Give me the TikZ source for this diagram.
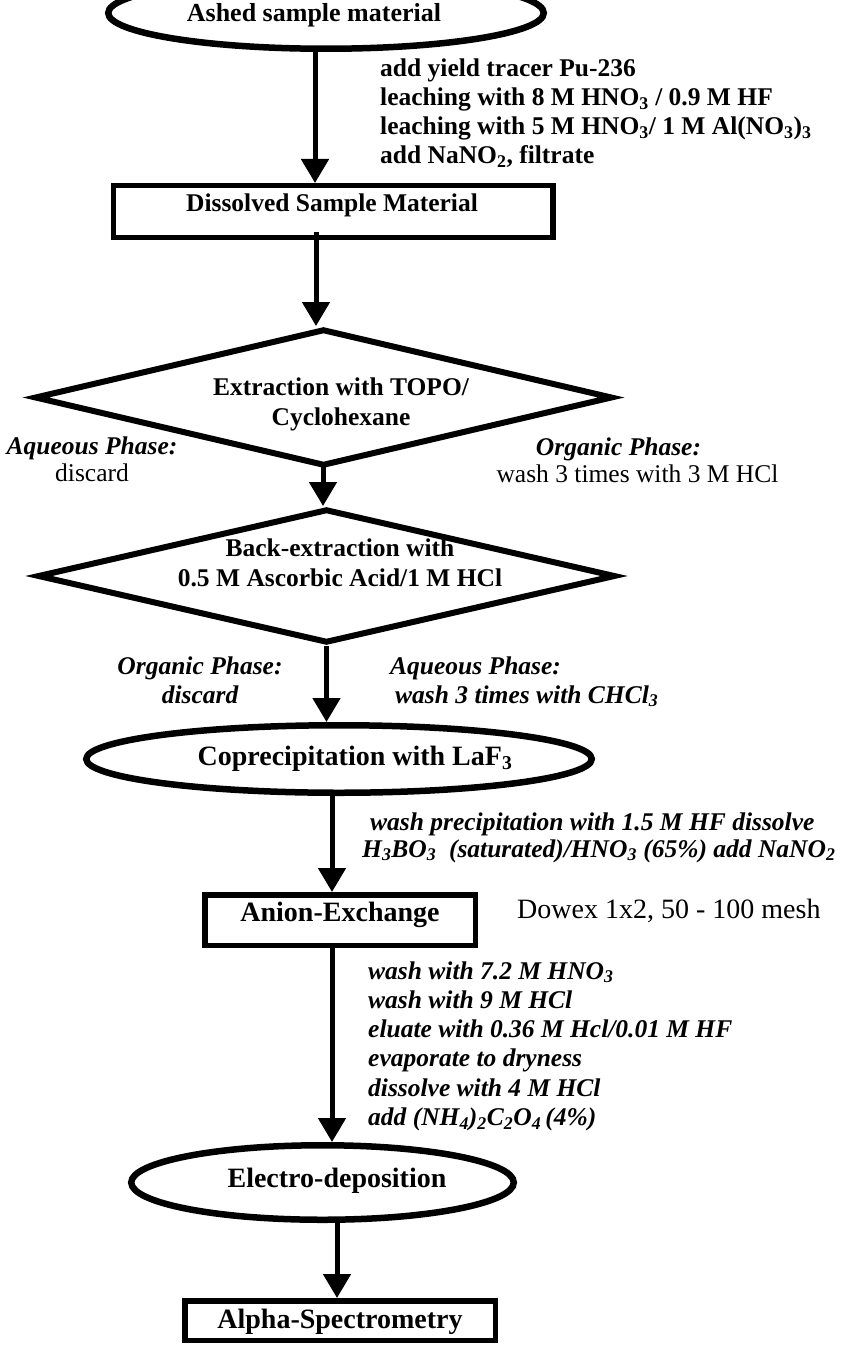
\documentclass[tikz,border=0pt]{standalone}
\usepackage{fontspec}
\setmainfont{Liberation Serif}
\usetikzlibrary{shapes.geometric,arrows.meta}
\tikzset{
  ell/.style={ellipse, draw, line width=6.5pt, inner sep=0pt},
  boxr/.style={rectangle, draw, line width=5.5pt, inner sep=0pt},
  dia/.style={diamond, draw, line width=6pt, inner sep=0pt},
  arr/.style={line width=5pt, -{Triangle[width=27pt,length=24pt]}},
  btxt/.style={font=\fontsize{25.5pt}{29.3pt}\selectfont\bfseries, inner sep=0pt},
  bitxt/.style={font=\fontsize{25.5pt}{29.3pt}\selectfont\bfseries\itshape, inner sep=0pt},
  rtxt/.style={font=\fontsize{25.5pt}{29.3pt}\selectfont, inner sep=0pt},
  bigtxt/.style={font=\fontsize{28pt}{32pt}\selectfont\bfseries, inner sep=0pt},
}
\begin{document}
\begin{tikzpicture}[x=1pt,y=-1pt]
\useasboundingbox (0,0) rectangle (857,1351);
\fill[white] (0,0) rectangle (857,1351);

% shapes
\node[ell, minimum width=435.5pt, minimum height=71.5pt] (e1) at (326,13) {};
\node[boxr, minimum width=439.5pt, minimum height=51.5pt] (r1) at (333,211.5) {};
\node[dia, minimum width=578pt, minimum height=137pt] (d1) at (323.5,397.5) {};
\node[dia, minimum width=578pt, minimum height=134pt] (d2) at (326.5,576) {};
\node[ell, minimum width=505.5pt, minimum height=67.5pt] (e2) at (339,759) {};
\node[boxr, minimum width=270.5pt, minimum height=50.5pt] (r2) at (340,920) {};
\node[ell, minimum width=382.5pt, minimum height=74.5pt] (e3) at (322.5,1182.5) {};
\node[boxr, minimum width=310.5pt, minimum height=39.5pt] (r3) at (340,1320.5) {};

% shape texts (for multi-line texts the base anchor is the last line)
\node[btxt, font=\fontsize{26pt}{29pt}\selectfont\bfseries, anchor=base] (t1) at (314,22) {Ashed sample material};
\node[btxt, anchor=base] (t2) at (332,211.5) {Dissolved Sample Material};
\node[btxt, align=center, anchor=base] (t3) at (341,425) {Extraction with TOPO/\\Cyclohexane};
\node[btxt, align=center, anchor=base] (t6) at (340,586) {Back-extraction with\\0.5 M Ascorbic Acid/1 M HCl};
\node[bigtxt, anchor=base] (t9) at (355,765) {Coprecipitation with LaF\textsubscript{3}};
\node[bigtxt, anchor=base] (t10) at (340,921.7) {Anion-Exchange};
\node[bigtxt, anchor=base] (t12) at (337,1187) {Electro-deposition};
\node[bigtxt, anchor=base] (t13) at (340,1328) {Alpha-Spectrometry};

% side texts
\node[btxt, align=left, anchor=base west] (ta) at (380,164)
  {add yield tracer Pu-236\\
   leaching with 8 M HNO\textsubscript{3} / 0.9 M HF\\
   leaching with 5 M HNO\textsubscript{3}/ 1 M Al(NO\textsubscript{3})\textsubscript{3}\\
   add NaNO\textsubscript{2}, filtrate};
\node[bitxt, font=\fontsize{25.5pt}{26.5pt}\selectfont\bfseries\itshape, align=center, anchor=base] (t4) at (92,481)
  {Aqueous Phase:\\{\mdseries\upshape discard}};
\node[bitxt, font=\fontsize{25.5pt}{26.5pt}\selectfont\bfseries\itshape, align=center, anchor=base] (t5) at (637.5,482)
  {Organic Phase:\hspace*{38pt}\\{\mdseries\upshape wash 3 times with 3 M HCl}};
\node[bitxt, font=\fontsize{25.5pt}{28.5pt}\selectfont\bfseries\itshape, align=center, anchor=base] (t7) at (200,703)
  {Organic Phase:\\discard};
\node[bitxt, font=\fontsize{25.5pt}{28.5pt}\selectfont\bfseries\itshape, align=left, anchor=base west] (t8) at (390,703)
  {Aqueous Phase:\\\hspace*{5pt}wash 3 times with CHCl\textsubscript{3}};
\node[bitxt, font=\fontsize{25.5pt}{26.5pt}\selectfont\bfseries\itshape, align=left, anchor=base west] (tb) at (362,857)
  {\hspace*{8pt}wash precipitation with 1.5 M HF dissolve\\
   H\textsubscript{3}BO\textsubscript{3}\ \ (saturated)/HNO\textsubscript{3} (65\%) add NaNO\textsubscript{2}};
\node[rtxt, font=\fontsize{28pt}{32pt}\selectfont, anchor=base west] (t11) at (517,918)
  {Dowex 1x2, 50 - 100 mesh};
\node[bitxt, align=left, anchor=base west] (tc) at (368,1125.5)
  {wash with 7.2 M HNO\textsubscript{3}\\
   wash with 9 M HCl\\
   eluate with 0.36 M Hcl/0.01 M HF\\
   evaporate to dryness\\
   dissolve with 4 M HCl\\
   add (NH\textsubscript{4})\textsubscript{2}C\textsubscript{2}O\textsubscript{4}\,(4\%)};

% connectors
\draw[arr] ([xshift=-11pt]e1.south) -- ([xshift=-18pt]r1.north);
\draw[arr] ([xshift=-17pt,yshift=8pt]r1.south) -- ([xshift=-7.5pt]d1.north);
\draw[arr] ([xshift=-0.5pt,yshift=4pt]d1.south) -- ([xshift=-3.5pt]d2.north);
\draw[arr] (d2.south) -- ([xshift=-12.5pt]e2.north);
\draw[arr] ([xshift=-7pt]e2.south) -- ([xshift=-8pt]r2.north);
\draw[arr] ([xshift=-8pt]r2.south) -- ([xshift=9.5pt]e3.north);
\draw[arr] ([xshift=14.5pt]e3.south) -- ([xshift=-3pt]r3.north);
\end{tikzpicture}
\end{document}
